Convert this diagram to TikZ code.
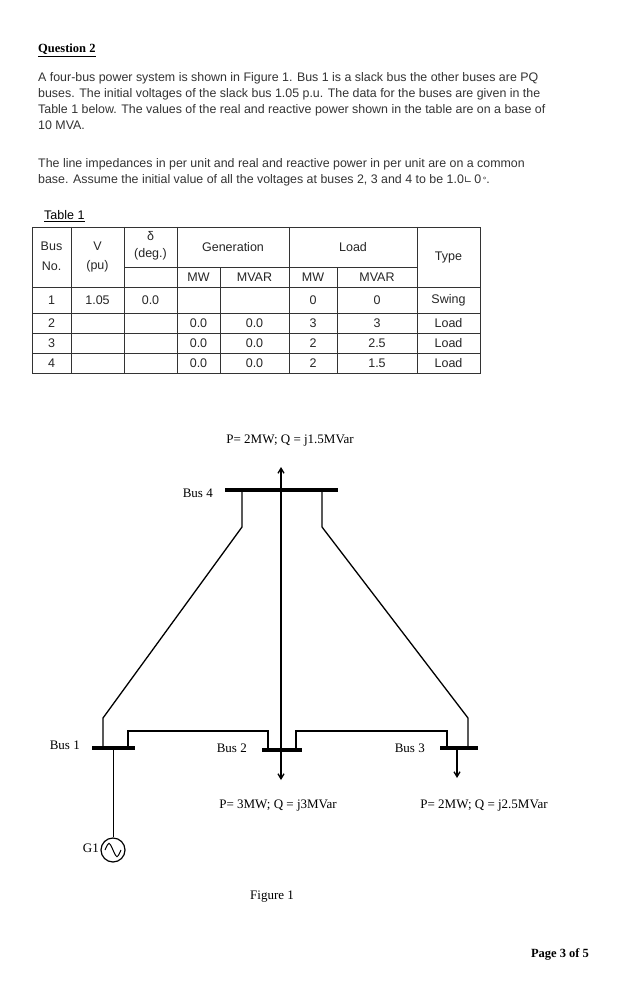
\documentclass[tikz,border=0pt]{standalone}
\usepackage{fontspec}
\setmainfont{Liberation Serif}
\newfontfamily\arial{Liberation Sans}
\newfontfamily\dejavu{DejaVu Sans}
\usetikzlibrary{arrows.meta}
\begin{document}
\begin{tikzpicture}[x=1pt,y=-1pt,
  para/.style={anchor=base west,inner sep=0pt,font=\arial\fontsize{12.4}{14}\selectfont,text=black!80},
  cell/.style={inner sep=0pt,font=\arial\fontsize{12.5}{14}\selectfont,text=black!85},
  lbl/.style={inner sep=0pt,font=\fontsize{13}{15}\selectfont},
  line/.style={line width=1.3pt},
  bar/.style={line width=4pt},
  arr/.style={line width=1.3pt,-{Straight Barb[length=5pt,width=6pt]}}]
\useasboundingbox[fill=white] (0,0) rectangle (625,992);
% heading
\node[anchor=base west,inner sep=0pt,font=\bfseries\fontsize{12.5}{14}\selectfont] (q) at (38,53) {\underline{Question 2}};
\node[para] (p1) at (38,82) {A four-bus power system is shown in Figure 1. Bus 1 is a slack bus the other buses are PQ};
\node[para] (p2) at (38,98) {buses. The initial voltages of the slack bus 1.05 p.u. The data for the buses are given in the};
\node[para] (p3) at (38,114) {Table 1 below. The values of the real and reactive power shown in the table are on a base of};
\node[para] (p4) at (38,130) {10 MVA.};
\node[para] (p5) at (38,168) {The line impedances in per unit and real and reactive power in per unit are on a common};
\node[para] (p6) at (38,184) {base. Assume the initial value of all the voltages at buses 2, 3 and 4 to be 1.0{\dejavu\fontsize{10}{11}\selectfont ∟}\,0{\fontsize{9}{10}\selectfont\,°}.};
\node[para,font=\arial\fontsize{12.5}{14}\selectfont,text=black] (t1) at (44,220) {\underline{Table 1}};
% table
\begin{scope}[line width=0.9pt,draw=black!80]
\draw (32,227) rectangle (480,373);
\draw (32,287) -- (480,287);
\draw (32,313) -- (480,313);
\draw (32,333) -- (480,333);
\draw (32,353) -- (480,353);
\draw (124,267) -- (417,267);
\foreach \x in {71,124,177,289,417} \draw (\x,227) -- (\x,373);
\foreach \x in {220,337} \draw (\x,267) -- (\x,373);
\end{scope}
\node[cell] (h1) at (51.5,246) {Bus};
\node[cell] (h1b) at (51.5,266) {No.};
\node[cell] (h2) at (97.5,246) {V};
\node[cell] (h2b) at (97.5,266) {(pu)};
\node[cell] (h3) at (150.5,236) {δ};
\node[cell] (h3b) at (150.5,254) {(deg.)};
\node[cell] (h4) at (233,247) {Generation};
\node[cell] (h5) at (353,247) {Load};
\node[cell] (h6) at (448.5,257) {Type};
\node[cell] (g1) at (198.5,277) {MW};
\node[cell] (g2) at (254.5,277) {MVAR};
\node[cell] (l1) at (313,277) {MW};
\node[cell] (l2) at (377,277) {MVAR};
\foreach \r/\y/\a/\b/\c/\d/\e/\f/\g/\h in {1/300/1.05/0.0///0/0/Swing/a,2/323/{}/{}/0.0/0.0/3/3/Load/b,3/343/{}/{}/0.0/0.0/2/2.5/Load/c,4/363/{}/{}/0.0/0.0/2/1.5/Load/d}{
  \node[cell] (r\h1) at (51.5,\y) {\r};
  \node[cell] (r\h2) at (97.5,\y) {\a};
  \node[cell] (r\h3) at (150.5,\y) {\b};
  \node[cell] (r\h4) at (198.5,\y) {\c};
  \node[cell] (r\h5) at (254.5,\y) {\d};
  \node[cell] (r\h6) at (313,\y) {\e};
  \node[cell] (r\h7) at (377,\y) {\f};
  \node[cell] (r\h8) at (448.5,\y) {\g};
}
% diagram
\coordinate (b4l) at (225,490); \coordinate (b4r) at (338,490);
\coordinate (b1l) at (92,748); \coordinate (b1r) at (135,748);
\coordinate (b2l) at (262,750); \coordinate (b2r) at (302,750);
\coordinate (b3l) at (440,748); \coordinate (b3r) at (478,748);
\draw[line] (242,490) -- (242,527) -- (103,718) -- (103,748);
\draw[line] (322,490) -- (322,527) -- (468,718) -- (468,748);
\draw[line] (128,748) -- (128,731) -- (268,731) -- (268,750);
\draw[line] (296,750) -- (296,731) -- (447,731) -- (447,748);
\draw[bar] (b4l) -- (b4r);
\draw[bar] (b1l) -- (b1r);
\draw[bar] (b2l) -- (b2r);
\draw[bar] (b3l) -- (b3r);
\coordinate (a4) at (281,467);
\coordinate (a2) at (281,780);
\coordinate (a3) at (457,778);
\draw[arr] (281,620) -- (a4);
\draw[arr] (281,620) -- (a2);
\draw[arr] (457,748) -- (a3);
\node[circle,draw,line width=1.2pt,minimum size=24pt,inner sep=0pt] (G) at (113,850) {};
\draw[line width=0.9pt] (113,748) -- (G.north);
\draw[line width=1pt] (105,850) .. controls (109,841) .. (113,850) .. controls (117,859) .. (121,850);
\node[lbl,anchor=east] (gl) at (99,848) {G1};
\node[lbl,anchor=east] (l4) at (213,493) {Bus 4};
\node[lbl,anchor=east] (l1) at (80,745) {Bus 1};
\node[lbl,anchor=east] (l2) at (247,748) {Bus 2};
\node[lbl,anchor=east] (l3) at (425,748) {Bus 3};
\node[lbl] (pq4) at (290,441) {P= 2MW; Q = j1.5MVar};
\node[lbl] (pq2) at (278,806) {P= 3MW; Q = j3MVar};
\node[lbl] (pq3) at (484,806) {P= 2MW; Q = j2.5MVar};
\node[lbl] (fig) at (272,897) {Figure 1};
\node[lbl,font=\bfseries\fontsize{12.5}{14}\selectfont] (pg) at (560,954) {Page 3 of 5};
\end{tikzpicture}
\end{document}
